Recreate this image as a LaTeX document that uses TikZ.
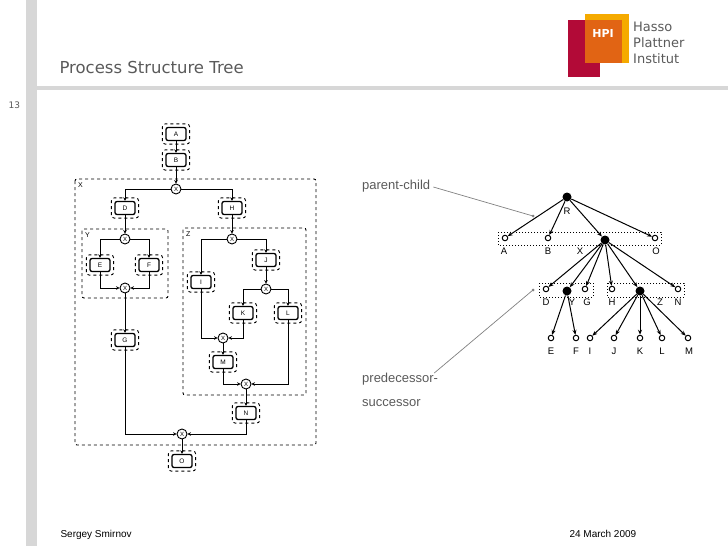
\documentclass[tikz,border=0pt]{standalone}
\usepackage{fontspec}
\setmainfont{Liberation Sans}
\newfontfamily\titlefont{DejaVu Sans}
\usetikzlibrary{arrows.meta,calc}
\definecolor{tgray}{RGB}{90,90,90}
\definecolor{bar}{RGB}{215,215,215}
\definecolor{hpired}{RGB}{178,10,55}
\definecolor{hpiorange}{RGB}{225,100,20}
\definecolor{hpiyellow}{RGB}{245,170,0}
\tikzset{
  act/.style={draw,line width=1.3pt,rounded corners=2pt,minimum width=20pt,minimum height=13pt,inner sep=0pt,font=\fontsize{6.5}{7}\selectfont,
    append after command={\pgfextra{\draw[dashed,line width=0.9pt,rounded corners=3pt] ($(\tikzlastnode.south west)+(-3pt,-3pt)$) rectangle ($(\tikzlastnode.north east)+(3pt,3pt)$);}}},
  gw/.style={draw,line width=0.9pt,circle,fill=white,minimum size=10pt,inner sep=0pt,font=\fontsize{6}{6}\selectfont},
  frag/.style={draw,dashed,line width=0.9pt,rounded corners=2pt},
  flow/.style={line width=0.8pt,-{Stealth[length=3.5pt,width=3.5pt]}},
  tn/.style={circle,draw,line width=1pt,minimum size=5.5pt,inner sep=0pt,fill=white},
  tf/.style={circle,fill=black,minimum size=9pt,inner sep=0pt},
  te/.style={-{Stealth[length=5pt,width=4pt]},line width=1pt},
  tl/.style={font=\fontsize{9.5}{10}\selectfont},
  ann/.style={draw=gray,line width=0.7pt},
}
\begin{document}
\begin{tikzpicture}[x=1pt,y=-1pt]
\useasboundingbox (0,0) rectangle (728,546);
\fill[bar] (26,0) rectangle (37,546);
\fill[bar] (26,86) rectangle (728,90);
\node[anchor=west,font=\titlefont\fontsize{9}{10}\selectfont,text=tgray] (pg) at (5,105) {13};
\node[anchor=base west,font=\titlefont\fontsize{16.5}{18}\selectfont,text=tgray] (title) at (56,73) {Process Structure Tree};
% logo
\fill[hpired] (568,20) rectangle (600,77);
\fill[hpiyellow] (585,14) rectangle (629,63);
\fill[hpiorange] (585,20) rectangle (622,63);
\node[font=\titlefont\bfseries\fontsize{11}{12}\selectfont,text=white] (hpi) at (603,33) {HPI};
\node[anchor=north west,align=left,font=\titlefont\fontsize{13}{16}\selectfont,text=tgray,inner sep=0pt] (hpt) at (633,22) {Hasso\\Plattner\\Institut};
% fragments
\draw[frag] (75,179) rectangle (316,445);
\node[font=\fontsize{7}{7}\selectfont,anchor=north west,inner sep=1pt] (lx) at (77,181) {X};
\draw[frag] (82,229) rectangle (168,298);
\node[font=\fontsize{7}{7}\selectfont,anchor=north west,inner sep=1pt] (ly) at (84,231) {Y};
\draw[frag] (183,228) rectangle (306,395);
\node[font=\fontsize{7}{7}\selectfont,anchor=north west,inner sep=1pt] (lz) at (185,230) {Z};
% nodes
\node[act] (A) at (176,134) {A};
\node[act] (B) at (176,160) {B};
\node[gw] (g1) at (176,189) {X};
\node[act] (D) at (125,208) {D};
\node[act] (H) at (232,208) {H};
\node[gw] (g2) at (125,239) {X};
\node[act] (E) at (100,265) {E};
\node[act] (F) at (149,265) {F};
\node[gw] (g3) at (125,288) {X};
\node[act] (G) at (125,340) {G};
\node[gw] (g4) at (232,239) {X};
\node[act] (J) at (266,260) {J};
\node[act] (I) at (201,282) {I};
\node[gw] (g5) at (266,289) {X};
\node[act] (K) at (243,313) {K};
\node[act] (L) at (288,313) {L};
\node[gw] (g6) at (223,338) {X};
\node[act] (M) at (223,362) {M};
\node[gw] (g7) at (246,384) {X};
\node[act] (N) at (246,413) {N};
\node[gw] (g8) at (182,434) {X};
\node[act] (O) at (182,461) {O};
% flows
\draw[flow] (A) -- (B);
\draw[flow] (B) -- (g1);
\draw[flow] (g1) -| (D);
\draw[flow] (g1) -| (H);
\draw[flow] (D) -- (g2);
\draw[flow] (g2) -| (E);
\draw[flow] (g2) -| (F);
\draw[flow] (E) |- (g3);
\draw[flow] (F) |- (g3);
\draw[flow] (g3) -- (G);
\draw[flow] (G) |- (g8);
\draw[flow] (H) -- (g4);
\draw[flow] (g4) -| (I);
\draw[flow] (g4) -| (J);
\draw[flow] (J) -- (g5);
\draw[flow] (g5) -| (K);
\draw[flow] (g5) -| (L);
\draw[flow] (I) |- (g6);
\draw[flow] (K) |- (g6);
\draw[flow] (g6) -- (M);
\draw[flow] (M) |- (g7);
\draw[flow] (L) |- (g7);
\draw[flow] (g7) -- (N);
\draw[flow] (N) |- (g8);
\draw[flow] (g8) -- (O);
% tree
\draw[dotted,line width=1pt] (498,232) rectangle (661,245);
\draw[dotted,line width=1pt] (539,283) rectangle (593,297);
\draw[dotted,line width=1pt] (607,283) rectangle (684,297);
\node[tf] (R) at (567,197) {};
\node[tn] (tA) at (505,238) {};
\node[tn] (tB) at (548,238) {};
\node[tf] (tX) at (605,240) {};
\node[tn] (tO) at (655,238) {};
\node[tn] (tD) at (546,289) {};
\node[tf] (tY) at (567,291) {};
\node[tn] (tG) at (585,289) {};
\node[tn] (tH) at (612,289) {};
\node[tf] (tZ) at (640,291) {};
\node[tn] (tN) at (678,289) {};
\node[tn] (tE) at (551,338) {};
\node[tn] (tF) at (576,338) {};
\node[tn] (tI) at (590,338) {};
\node[tn] (tJ) at (614,338) {};
\node[tn] (tK) at (640,338) {};
\node[tn] (tL) at (662,338) {};
\node[tn] (tM) at (688,338) {};
\foreach \t in {tA,tB,tX,tO} \draw[te] (R) -- (\t);
\foreach \t in {tD,tY,tG,tH,tZ,tN} \draw[te] (tX) -- (\t);
\foreach \t in {tE,tF} \draw[te] (tY) -- (\t);
\foreach \t in {tI,tJ,tK,tL,tM} \draw[te] (tZ) -- (\t);
\node[tl] (lR) at (567,211) {R};
\node[tl] (lA) at (504,251) {A};
\node[tl] (lB) at (548,251) {B};
\node[tl] (lX) at (580,251) {X};
\node[tl] (lO) at (656,251) {O};
\node[tl] (lD) at (546,302) {D};
\node[tl] (lY) at (572,302) {Y};
\node[tl] (lG) at (587,302) {G};
\node[tl] (lH) at (612,302) {H};
\node[tl] (lZ) at (660,302) {Z};
\node[tl] (lN) at (678,302) {N};
\node[tl] (lE) at (551,351) {E};
\node[tl] (lF) at (576,351) {F};
\node[tl] (lI) at (590,351) {I};
\node[tl] (lJ) at (614,351) {J};
\node[tl] (lK) at (640,351) {K};
\node[tl] (lL) at (662,351) {L};
\node[tl] (lM) at (689,351) {M};
% annotations
\node[anchor=west,font=\fontsize{13}{14}\selectfont,text=tgray,inner sep=0pt] (pc) at (362,186) {parent-child};
\node[anchor=north west,align=left,font=\fontsize{13}{24}\selectfont,text=tgray,inner sep=0pt] (ps) at (362,373) {predecessor-\\successor};
\coordinate (c1) at (533,216);
\coordinate (c2) at (533,290);
\draw[ann] ($(pc.east)+(3,1)$) -- (c1);
\fill[gray] (c1) circle (1.5);
\draw[ann] ($(ps.north east)+(-4,0)$) -- (c2);
\fill[gray] (c2) circle (1.5);
% footer
\node[anchor=base west,font=\fontsize{10}{12}\selectfont] (f1) at (57,537) {Sergey Smirnov};
\node[anchor=base west,font=\fontsize{10}{12}\selectfont] (f2) at (566,537) {24 March 2009};
\end{tikzpicture}
\end{document}
